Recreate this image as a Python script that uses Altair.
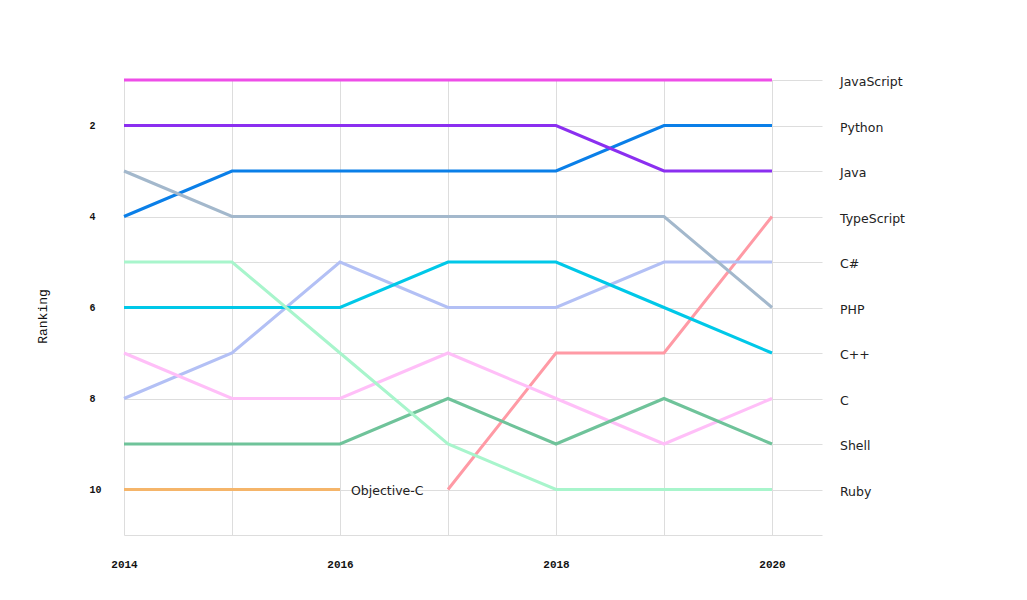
import altair as alt
import pandas as pd

years = [2014, 2015, 2016, 2017, 2018, 2019, 2020]

languages = ['JavaScript', 'Python', 'Java', 'TypeScript', 'C#', 'PHP',
             'C++', 'C', 'Shell', 'Ruby', 'Objective-C']

ranks = {
    'JavaScript': [1, 1, 1, 1, 1, 1, 1],
    'Python': [4, 3, 3, 3, 3, 2, 2],
    'Java': [2, 2, 2, 2, 2, 3, 3],
    'TypeScript': [None, None, None, 10, 7, 7, 4],
    'C#': [8, 7, 5, 6, 6, 5, 5],
    'PHP': [3, 4, 4, 4, 4, 4, 6],
    'C++': [6, 6, 6, 5, 5, 6, 7],
    'C': [7, 8, 8, 7, 8, 9, 8],
    'Shell': [9, 9, 9, 8, 9, 8, 9],
    'Ruby': [5, 5, 7, 9, 10, 10, 10],
    'Objective-C': [10, 10, 10, None, None, None, None],
}

colors = ['#ee4ee8', '#0a7fe8', '#8b2ff0', '#ff9aa5', '#b3c0f5', '#a3b8cc',
          '#00c8e8', '#ffbff8', '#6fc39a', '#a8f5cc', '#f5b56a']

rows = []
for lang in languages:
    for yr, r in zip(years, ranks[lang]):
        if r is not None:
            rows.append({'Year': yr, 'Rank': r, 'Language': lang})
df = pd.DataFrame(rows)

# label at the last point of each series
last = df.sort_values('Year').groupby('Language').tail(1)
end_labels = last[last['Year'] == 2020]
objc_label = last[last['Language'] == 'Objective-C']

x_enc = alt.X('Year:Q', title=None,
              scale=alt.Scale(domain=[2014, 2020.463], nice=False, zero=False),
              axis=alt.Axis(values=years, format='d', grid=True, ticks=False,
                            domain=False, gridColor='#dddddd', labelFlush=False,
                            labelExpr="datum.value % 2 == 0 ? datum.label : ''",
                            labelFont='Liberation Mono', labelFontSize=11,
                            labelFontWeight='bold', labelColor='#111111',
                            labelPadding=23))
y_enc = alt.Y('Rank:Q', title='Ranking',
              scale=alt.Scale(domain=[11, 1], nice=False, zero=False),
              axis=alt.Axis(values=list(range(1, 12)), grid=True, ticks=False,
                            domain=False, gridColor='#dddddd',
                            labelExpr="datum.value % 2 == 0 ? datum.label : ''",
                            labelFont='Liberation Mono', labelFontSize=10,
                            labelFontWeight='bold', labelColor='#111111',
                            labelAlign='left', labelPadding=35,
                            titleFont='Liberation Mono', titleFontSize=13,
                            titleFontWeight='normal', titleColor='#111111',
                            titleX=-75, titleY=236))

color_enc = alt.Color('Language:N', scale=alt.Scale(domain=languages, range=colors),
                      legend=None)

lines = alt.Chart(df).mark_line(strokeWidth=3).encode(
    x=x_enc, y=y_enc, color=color_enc, detail='Language:N'
)

right = alt.Chart(end_labels).mark_text(
    align='left', baseline='middle', dx=68, dy=2, font='DejaVu Sans', fontSize=12.5,
    color='#222222'
).encode(x='Year:Q', y='Rank:Q', text='Language:N')

objc = alt.Chart(objc_label).mark_text(
    align='left', baseline='middle', dx=11, dy=1, font='DejaVu Sans', fontSize=12.5,
    color='#222222'
).encode(x='Year:Q', y='Rank:Q', text='Language:N')

chart = (lines + right + objc).properties(
    width=698,
    height=455,
    autosize=alt.AutoSizeParams(type='none'),
    padding={'left': 116, 'top': 72, 'right': 190, 'bottom': 50}
).configure_view(
    stroke=None
)

chart.save("out.html", embed_options={"renderer": "svg", "actions": False})
